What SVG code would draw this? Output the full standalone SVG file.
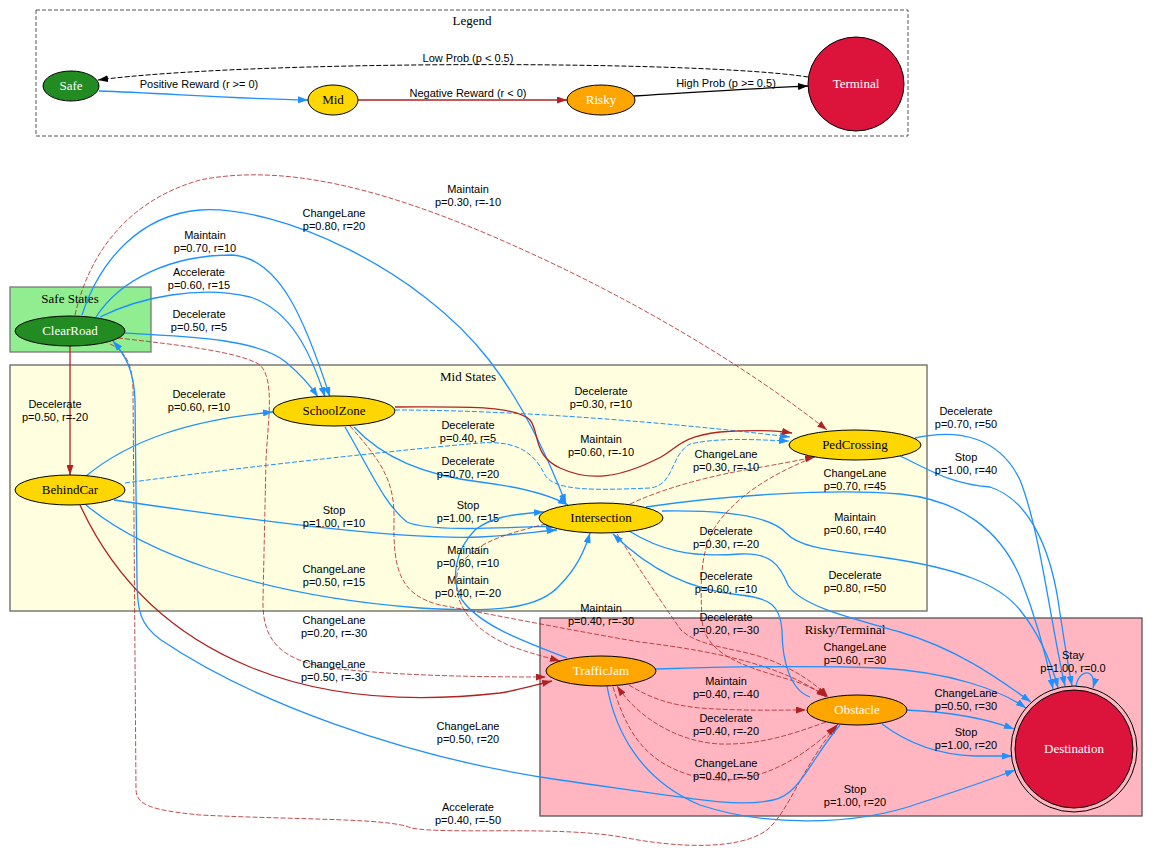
<svg xmlns="http://www.w3.org/2000/svg" width="1152" height="853" viewBox="0 0 1152 853">
<defs>
<marker id="ab" viewBox="0 0 10 7" refX="10" refY="3.5" markerWidth="10" markerHeight="7" markerUnits="userSpaceOnUse" orient="auto"><path d="M0,0 L10,3.5 L0,7 z" fill="#1E90FF"/></marker>
<marker id="ar" viewBox="0 0 10 7" refX="10" refY="3.5" markerWidth="10" markerHeight="7" markerUnits="userSpaceOnUse" orient="auto"><path d="M0,0 L10,3.5 L0,7 z" fill="#B22222"/></marker>
<marker id="ak" viewBox="0 0 10 7" refX="10" refY="3.5" markerWidth="10" markerHeight="7" markerUnits="userSpaceOnUse" orient="auto"><path d="M0,0 L10,3.5 L0,7 z" fill="#000"/></marker>
</defs>
<style>
.nt{font-family:"Liberation Serif","Times New Roman",serif;font-size:13px;text-anchor:middle}
.w{fill:#fff}
.k{fill:#000}
.el{font-family:"Liberation Sans",Arial,sans-serif;font-size:11px;text-anchor:middle;fill:#000}
.nd{stroke:#000;stroke-width:1}
.b{fill:none;stroke:#1E90FF;stroke-width:1.3;marker-end:url(#ab)}
.bd{fill:none;stroke:#1E90FF;stroke-width:1;stroke-dasharray:5,2;marker-end:url(#ab)}
.r{fill:none;stroke:#B22222;stroke-width:1.3;marker-end:url(#ar)}
.rd{fill:none;stroke:#B22222;stroke-width:1;stroke-opacity:0.8;stroke-dasharray:5,2;marker-end:url(#ar)}
.kk{fill:none;stroke:#000;stroke-width:1.3;marker-end:url(#ak)}
.kd{fill:none;stroke:#000;stroke-width:1;stroke-dasharray:5,2;marker-end:url(#ak)}
.cl{stroke-width:1.3}
</style>
<rect width="1152" height="853" fill="#fff"/>

<!-- clusters -->
<g id="cluster-legend">
<rect x="36" y="10" width="872" height="126" fill="none" stroke="#555" stroke-width="1" stroke-dasharray="4,2"/>
<text class="nt k" x="472" y="25">Legend</text>
</g>
<g id="cluster-safe">
<rect x="10" y="287" width="141" height="65" fill="#90EE90" stroke="#777" class="cl"/>
<text class="nt k" x="70" y="303">Safe States</text>
</g>
<g id="cluster-mid">
<rect x="10" y="365" width="917" height="246" fill="#FFFFE0" stroke="#666" class="cl"/>
<text class="nt k" x="468" y="381">Mid States</text>
</g>
<g id="cluster-risky">
<rect x="540" y="618" width="602" height="198" fill="#FFB6C1" stroke="#555" class="cl"/>
<text class="nt k" x="845" y="634">Risky/Terminal</text>
</g>

<!-- connectors -->
<g id="connectors">
<!-- legend -->
<g><path class="b" d="M99,91 C160,93 240,99 308,100"/><text class="el" x="199" y="88">Positive Reward (r &gt;= 0)</text></g>
<g><path class="r" d="M358,100 C420,100 500,100 567,100"/><text class="el" x="468" y="97">Negative Reward (r &lt; 0)</text></g>
<g><path class="kk" d="M634,96 C690,92 750,89 808,86"/><text class="el" x="726" y="87">High Prob (p &gt;= 0.5)</text></g>
<g><path class="kd" d="M808,77 C700,60 250,60 98,80"/><text class="el" x="468" y="62">Low Prob (p &lt; 0.5)</text></g>

<!-- ClearRoad -->
<g><path class="b" d="M125,333 C200,337 260,340 287,363 C300,374 310,385 318,397"/><text class="el" x="199" y="318">Decelerate</text><text class="el" x="199" y="331">p=0.50, r=5</text></g>
<g><path class="b" d="M100,317 C140,297 200,285 250,297 C290,310 310,350 325,397"/><text class="el" x="199" y="276">Accelerate</text><text class="el" x="199" y="289">p=0.60, r=15</text></g>
<g><path class="b" d="M96,317 C120,280 170,255 232,255 C280,258 305,320 330,397"/><text class="el" x="205" y="239">Maintain</text><text class="el" x="205" y="252">p=0.70, r=10</text></g>
<g><path class="b" d="M82,315 C100,260 140,215 200,210 C280,205 420,270 489,360 C520,400 545,450 566,504"/><text class="el" x="334" y="217">ChangeLane</text><text class="el" x="334" y="230">p=0.80, r=20</text></g>
<g><path class="rd" d="M75,315 C90,250 130,200 200,180 C300,160 420,200 560,267 C680,325 770,385 827,430"/><text class="el" x="468" y="193">Maintain</text><text class="el" x="468" y="206">p=0.30, r=-10</text></g>
<g><path class="rd" d="M118,338 C180,345 240,352 260,365 C275,380 268,420 266,460 L263,600 C262,640 280,660 330,668 C400,676 480,677 546,677"/><text class="el" x="334" y="624">ChangeLane</text><text class="el" x="334" y="637">p=0.20, r=-30</text></g>
<g><path class="rd" d="M110,344 C125,350 133,365 133,390 L136,790 C137,805 150,810 200,815 C300,820 390,818 411,828 C450,835 560,825 627,838 C680,848 740,850 767,830 C790,810 800,770 838,724"/><text class="el" x="468" y="811">Accelerate</text><text class="el" x="468" y="824">p=0.40, r=-50</text></g>
<g><path class="r" d="M70,346 L70,475"/><text class="el" x="55" y="408">Decelerate</text><text class="el" x="55" y="421">p=0.50, r=-20</text></g>

<!-- BehindCar -->
<g><path class="b" d="M86,476 C130,440 190,420 273,412"/><text class="el" x="199" y="398">Decelerate</text><text class="el" x="199" y="411">p=0.60, r=10</text></g>
<g><path class="bd" d="M125,483 C250,466 420,448 480,443 C520,440 535,455 545,475 C555,492 600,490 650,488 C675,485 670,455 690,444 C720,437 760,440 789,441"/><text class="el" x="468" y="429">Decelerate</text><text class="el" x="468" y="442">p=0.40, r=5</text></g>
<g><path class="b" d="M114,500 C250,520 400,540 480,537 C520,535 540,531 557,530"/><text class="el" x="334" y="514">Stop</text><text class="el" x="334" y="527">p=1.00, r=10</text></g>
<g><path class="b" d="M86,505 C140,550 250,595 420,608 C500,613 540,608 560,585 C575,570 585,550 590,533"/><text class="el" x="334" y="573">ChangeLane</text><text class="el" x="334" y="586">p=0.50, r=15</text></g>
<g><path class="r" d="M80,505 C110,570 160,630 250,667 C330,700 420,702 500,693 C520,690 535,685 552,681"/><text class="el" x="334" y="668">ChangeLane</text><text class="el" x="334" y="681">p=0.50, r=-30</text></g>

<!-- SchoolZone -->
<g><path class="bd" d="M395,410 C500,410 650,420 790,437"/><text class="el" x="601" y="395">Decelerate</text><text class="el" x="601" y="408">p=0.30, r=10</text></g>
<g><path class="r" d="M395,407 C460,407 515,405 530,420 C540,432 532,455 560,468 C590,482 620,478 661,457 C680,446 680,437 720,432 C750,430 775,430 792,433"/><text class="el" x="601" y="443">Maintain</text><text class="el" x="601" y="456">p=0.60, r=-10</text></g>
<g><path class="b" d="M354,427 C380,455 420,475 480,482 C520,487 550,495 568,505"/><text class="el" x="468" y="465">Decelerate</text><text class="el" x="468" y="478">p=0.70, r=20</text></g>
<g><path class="b" d="M345,427 C370,470 385,505 407,522 C430,532 500,528 556,526"/><text class="el" x="468" y="509">Stop</text><text class="el" x="468" y="522">p=1.00, r=15</text></g>
<g><path class="rd" d="M350,426 C380,460 395,480 394,520 C393,570 400,595 440,605 C500,616 580,632 640,642 C720,652 780,665 827,697"/><text class="el" x="601" y="612">Maintain</text><text class="el" x="601" y="625">p=0.40, r=-30</text></g>

<!-- Intersection -->
<g><path class="rd" d="M630,504 C660,490 700,478 750,469 C780,464 800,460 815,457"/><text class="el" x="726" y="458">ChangeLane</text><text class="el" x="726" y="471">p=0.30, r=-10</text></g>
<g><path class="b" d="M646,507 C720,496 830,488 900,494 C960,500 1000,530 1020,577 C1035,615 1045,650 1053,689"/><text class="el" x="855" y="477">ChangeLane</text><text class="el" x="855" y="490">p=0.70, r=45</text></g>
<g><path class="b" d="M662,511 C720,510 770,515 786,533 C800,548 830,550 880,557 C960,568 1000,585 1020,610 C1040,635 1052,665 1058,688"/><text class="el" x="855" y="521">Maintain</text><text class="el" x="855" y="534">p=0.60, r=40</text></g>
<g><path class="b" d="M629,531 C660,550 690,558 740,554 C770,552 780,565 788,585 C800,605 846,617 900,632 C960,650 1000,680 1031,702"/><text class="el" x="855" y="579">Decelerate</text><text class="el" x="855" y="592">p=0.80, r=50</text></g>
<g><path class="rd" d="M617,534 C640,570 660,600 681,630 C700,648 740,648 770,660 C795,670 815,683 828,697"/><text class="el" x="726" y="621">Decelerate</text><text class="el" x="726" y="634">p=0.20, r=-30</text></g>
<g><path class="rd" d="M546,524 C500,535 470,545 458,570 C450,600 470,630 513,647 C530,653 545,657 560,661"/><text class="el" x="468" y="584">Maintain</text><text class="el" x="468" y="597">p=0.40, r=-20</text></g>

<!-- PedCrossing -->
<g><path class="rd" d="M812,458 C770,475 740,495 720,520 C700,545 700,580 702,620 C705,660 760,670 800,683 C812,688 820,692 826,697"/><text class="el" x="726" y="535">Decelerate</text><text class="el" x="726" y="548">p=0.30, r=-20</text></g>
<g><path class="b" d="M915,438 C960,428 1000,438 1020,480 C1040,530 1050,620 1065,686"/><text class="el" x="966" y="415">Decelerate</text><text class="el" x="966" y="428">p=0.70, r=50</text></g>
<g><path class="b" d="M900,456 C930,470 950,484 990,487 C1030,500 1050,550 1058,600 C1064,640 1068,665 1072,686"/><text class="el" x="966" y="461">Stop</text><text class="el" x="966" y="474">p=1.00, r=40</text></g>

<!-- TrafficJam -->
<g><path class="b" d="M567,658 C520,640 480,625 462,600 C450,580 455,550 475,530 C490,518 510,514 544,512"/><text class="el" x="468" y="554">Maintain</text><text class="el" x="468" y="567">p=0.60, r=10</text></g>
<g><path class="b" d="M656,669 C720,667 800,665 880,668 C950,672 1000,690 1026,708"/><text class="el" x="855" y="651">ChangeLane</text><text class="el" x="855" y="664">p=0.60, r=30</text></g>
<g><path class="b" d="M607,686 C615,730 640,780 700,805 C760,825 850,828 920,803 C960,790 990,780 1015,770"/><text class="el" x="855" y="793">Stop</text><text class="el" x="855" y="806">p=1.00, r=20</text></g>
<g><path class="rd" d="M629,685 C650,698 670,705 700,708 C740,711 780,710 806,710"/><text class="el" x="726" y="685">Maintain</text><text class="el" x="726" y="698">p=0.40, r=-40</text></g>
<g><path class="rd" d="M613,687 C625,725 640,760 690,775 C740,790 790,770 836,726"/><text class="el" x="726" y="767">ChangeLane</text><text class="el" x="726" y="780">p=0.40, r=-50</text></g>

<!-- Obstacle -->
<g><path class="rd" d="M826,722 C790,735 760,745 720,744 C680,742 640,720 617,686"/><text class="el" x="726" y="722">Decelerate</text><text class="el" x="726" y="735">p=0.40, r=-20</text></g>
<g><path class="b" d="M810,697 C790,690 782,660 782,630 C780,605 770,598 740,595 C690,590 650,570 613,534"/><text class="el" x="726" y="580">Decelerate</text><text class="el" x="726" y="593">p=0.60, r=10</text></g>
<g><path class="b" d="M906,710 C950,712 985,718 1014,729"/><text class="el" x="966" y="697">ChangeLane</text><text class="el" x="966" y="710">p=0.50, r=30</text></g>
<g><path class="b" d="M882,724 C910,745 940,755 975,756 C990,756 1000,756 1012,756"/><text class="el" x="966" y="736">Stop</text><text class="el" x="966" y="749">p=1.00, r=20</text></g>
<g><path class="b" d="M840,725 C810,760 800,795 773,800 C740,808 700,800 560,780 C400,757 250,700 161,640 C140,625 137,610 137,580 L135,400 C134,370 125,355 113,341"/><text class="el" x="468" y="730">ChangeLane</text><text class="el" x="468" y="743">p=0.50, r=20</text></g>

<!-- Destination -->
<g><path class="b" d="M1076,686 C1078,675 1085,671 1090,674 C1094,677 1095,681 1093,688"/><text class="el" x="1073" y="659">Stay</text><text class="el" x="1073" y="672">p=1.00, r=0.0</text></g>
</g>

<!-- nodes -->
<g id="node-safe"><ellipse class="nd" cx="71" cy="86" rx="28" ry="15" fill="#228B22"/><text class="nt w" x="71" y="90">Safe</text></g>
<g id="node-mid"><ellipse class="nd" cx="333" cy="100" rx="25" ry="15" fill="#FFD700"/><text class="nt k" x="333" y="104">Mid</text></g>
<g id="node-risky"><ellipse class="nd" cx="601" cy="100" rx="34" ry="15" fill="#FFA500"/><text class="nt w" x="601" y="104">Risky</text></g>
<g id="node-terminal"><ellipse class="nd" cx="856" cy="84" rx="48" ry="47" fill="#DC143C"/><text class="nt w" x="856" y="88">Terminal</text></g>

<g id="node-clearroad"><ellipse class="nd" cx="70" cy="331" rx="55" ry="15" fill="#228B22"/><text class="nt w" x="70" y="335">ClearRoad</text></g>
<g id="node-schoolzone"><ellipse class="nd" cx="334" cy="411" rx="61" ry="15" fill="#FFD700"/><text class="nt k" x="334" y="415">SchoolZone</text></g>
<g id="node-behindcar"><ellipse class="nd" cx="70" cy="490" rx="55" ry="15" fill="#FFD700"/><text class="nt k" x="70" y="494">BehindCar</text></g>
<g id="node-intersection"><ellipse class="nd" cx="601" cy="518" rx="62" ry="15" fill="#FFD700"/><text class="nt k" x="601" y="522">Intersection</text></g>
<g id="node-pedcrossing"><ellipse class="nd" cx="855" cy="445" rx="66" ry="15" fill="#FFD700"/><text class="nt k" x="855" y="449">PedCrossing</text></g>
<g id="node-trafficjam"><ellipse class="nd" cx="601" cy="671" rx="55" ry="15" fill="#FFA500"/><text class="nt w" x="601" y="675">TrafficJam</text></g>
<g id="node-obstacle"><ellipse class="nd" cx="857" cy="710" rx="50" ry="15" fill="#FFA500"/><text class="nt w" x="857" y="714">Obstacle</text></g>
<g id="node-destination"><circle class="nd" cx="1074" cy="749" r="63" fill="none"/><circle class="nd" cx="1074" cy="749" r="59" fill="#DC143C"/><text class="nt w" x="1074" y="753">Destination</text></g>
</svg>
